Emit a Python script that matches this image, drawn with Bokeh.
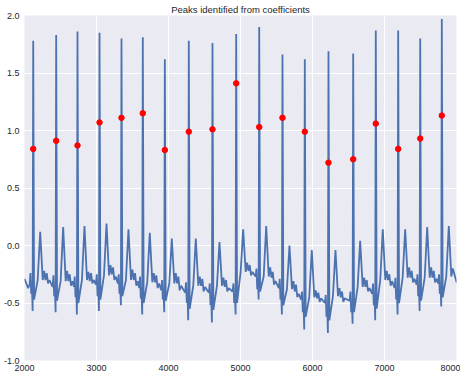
from bokeh.plotting import figure
from bokeh.models import Range1d, FixedTicker
from bokeh.embed import file_html
from bokeh.resources import INLINE

# ---- data ----
# R-peak positions and heights
r_x = [2121, 2440, 2736, 3042, 3347, 3643, 3949, 4282, 4611, 4940,
       5260, 5583, 5893, 6222, 6565, 6879, 7190, 7496, 7796]
r_y = [1.78, 1.83, 1.86, 1.85, 1.80, 1.81, 1.62, 1.78, 1.76, 1.84,
       1.90, 1.66, 1.62, 1.69, 1.67, 1.87, 1.87, 1.80, 1.97]
# peaks identified from coefficients (red dots)
dot_y = [0.84, 0.91, 0.87, 1.07, 1.11, 1.15, 0.83, 0.99, 1.01, 1.41,
         1.03, 1.11, 0.99, 0.72, 0.75, 1.06, 0.84, 0.93, 1.13]
# dip just before each R peak, dip just after, T-wave peak
q_y = [-0.57, -0.58, -0.60, -0.57, -0.52, -0.60, -0.58, -0.65, -0.67, -0.60,
       -0.47, -0.60, -0.73, -0.76, -0.68, -0.65, -0.60, -0.57, -0.53]
s_y = [-0.47, -0.48, -0.50, -0.47, -0.44, -0.50, -0.48, -0.55, -0.56, -0.50,
       -0.40, -0.52, -0.62, -0.65, -0.58, -0.55, -0.50, -0.48, -0.45]
t_y = [0.12, 0.16, 0.17, 0.19, 0.14, 0.11, 0.06, 0.06, 0.03, 0.14,
       0.17, 0.00, -0.04, -0.04, 0.04, 0.14, 0.14, 0.16, 0.17]
# wiggles before each R peak: level, small spike, down, up
pre_y = [
    [-0.34, -0.24, -0.42, -0.35], [-0.36, -0.26, -0.44, -0.38],
    [-0.36, -0.27, -0.45, -0.38], [-0.34, -0.25, -0.44, -0.36],
    [-0.33, -0.25, -0.42, -0.35], [-0.37, -0.27, -0.46, -0.39],
    [-0.39, -0.30, -0.47, -0.41], [-0.41, -0.32, -0.50, -0.43],
    [-0.41, -0.33, -0.52, -0.44], [-0.40, -0.33, -0.50, -0.43],
    [-0.27, -0.20, -0.38, -0.30], [-0.37, -0.29, -0.47, -0.40],
    [-0.47, -0.40, -0.58, -0.50], [-0.50, -0.43, -0.62, -0.53],
    [-0.48, -0.40, -0.58, -0.51], [-0.42, -0.33, -0.52, -0.44],
    [-0.37, -0.28, -0.47, -0.40], [-0.34, -0.25, -0.44, -0.36],
    [-0.33, -0.25, -0.42, -0.35],
]
# wiggles after each T wave: trough, up, down, up, down, level
post_y = [
    [-0.30, -0.22, -0.30, -0.24, -0.33, -0.30], [-0.31, -0.22, -0.31, -0.25, -0.35, -0.31],
    [-0.30, -0.23, -0.31, -0.24, -0.33, -0.30], [-0.26, -0.17, -0.25, -0.19, -0.30, -0.27],
    [-0.30, -0.21, -0.30, -0.24, -0.35, -0.31], [-0.32, -0.24, -0.32, -0.26, -0.37, -0.33],
    [-0.33, -0.24, -0.33, -0.27, -0.39, -0.35], [-0.35, -0.27, -0.35, -0.29, -0.40, -0.36],
    [-0.35, -0.28, -0.36, -0.30, -0.40, -0.37], [-0.23, -0.15, -0.22, -0.17, -0.26, -0.23],
    [-0.27, -0.19, -0.28, -0.23, -0.34, -0.31], [-0.38, -0.31, -0.40, -0.34, -0.45, -0.42],
    [-0.45, -0.39, -0.46, -0.41, -0.49, -0.46], [-0.44, -0.37, -0.45, -0.40, -0.49, -0.46],
    [-0.36, -0.28, -0.36, -0.30, -0.40, -0.37], [-0.30, -0.22, -0.30, -0.25, -0.35, -0.31],
    [-0.28, -0.19, -0.28, -0.22, -0.32, -0.29], [-0.28, -0.19, -0.28, -0.22, -0.32, -0.29],
    [-0.27, -0.20, -0.24, -0.28, -0.32, -0.30],
]
# start of the trace before the first beat
lead_x = [2000, 2025, 2050]
lead_y = [-0.29, -0.33, -0.37]

x_ticks = [2000, 3000, 4000, 5000, 6000, 7000, 8000]
x_labels = ["2000", "3000", "4000", "5000", "6000", "7000", "8000"]
y_ticks = [-1.0, -0.5, 0.0, 0.5, 1.0, 1.5, 2.0]
y_labels = ["-1.0", "-0.5", "0.0", "0.5", "1.0", "1.5", "2.0"]

# timing of the waveform parts, relative to each R peak (sample units)
pre_off = [-50, -38, -28, -18]
post_off = [62, 132, 152, 170, 188, 206, 226]

trace_x = list(lead_x)
trace_y = list(lead_y)
for i, rx in enumerate(r_x):
    for o, v in zip(pre_off, pre_y[i]):
        trace_x.append(rx + o); trace_y.append(v)
    trace_x += [rx - 8, rx, rx + 12]
    trace_y += [q_y[i], r_y[i], s_y[i]]
    pv = post_y[i]
    trace_x += [rx + 62, rx + 97]
    trace_y += [pv[0], t_y[i]]
    for o, v in zip(post_off[1:], pv):
        trace_x.append(rx + o); trace_y.append(v)

FONT = "Liberation Sans"
TXT = "#262626"

p = figure(frame_width=432, frame_height=345,
           x_range=Range1d(2000, 8000), y_range=Range1d(-1, 2),
           output_backend="svg", toolbar_location=None,
           title="Peaks identified from coefficients")
p.min_border_left = 19
p.min_border_right = 4
p.min_border_top = 0
p.min_border_bottom = 0
p.background_fill_color = "#EAEAF2"
p.border_fill_color = "white"
p.outline_line_color = None

p.title.align = "center"
p.title.text_font = FONT
p.title.text_font_size = "9.5px"
p.title.text_font_style = "normal"
p.title.text_color = TXT
p.title.standoff = 2
p.title.offset = 0

p.xaxis.ticker = FixedTicker(ticks=x_ticks)
p.yaxis.ticker = FixedTicker(ticks=y_ticks)
p.xaxis.major_label_overrides = {t: l for t, l in zip(x_ticks, x_labels)}
p.yaxis.major_label_overrides = {t: l for t, l in zip(y_ticks, y_labels)}
for ax in (p.xaxis, p.yaxis):
    ax.axis_line_color = None
    ax.major_tick_line_color = None
    ax.minor_tick_line_color = None
    ax.major_tick_out = 0
    ax.major_tick_in = 0
    ax.minor_tick_out = 0
    ax.minor_tick_in = 0
    ax.major_label_text_font = FONT
    ax.major_label_text_font_size = "9px"
    ax.major_label_text_color = TXT
p.xaxis.major_label_standoff = 4
p.yaxis.major_label_standoff = 5

p.xgrid.grid_line_color = "white"
p.ygrid.grid_line_color = "white"
p.xgrid.grid_line_width = 1
p.ygrid.grid_line_width = 1

p.line(trace_x, trace_y, line_color="#4C72B0", line_width=1.8)
p.scatter(r_x, dot_y, size=5.5, fill_color="red", line_color="red")

open("out.html", "w").write(file_html(p, INLINE))
